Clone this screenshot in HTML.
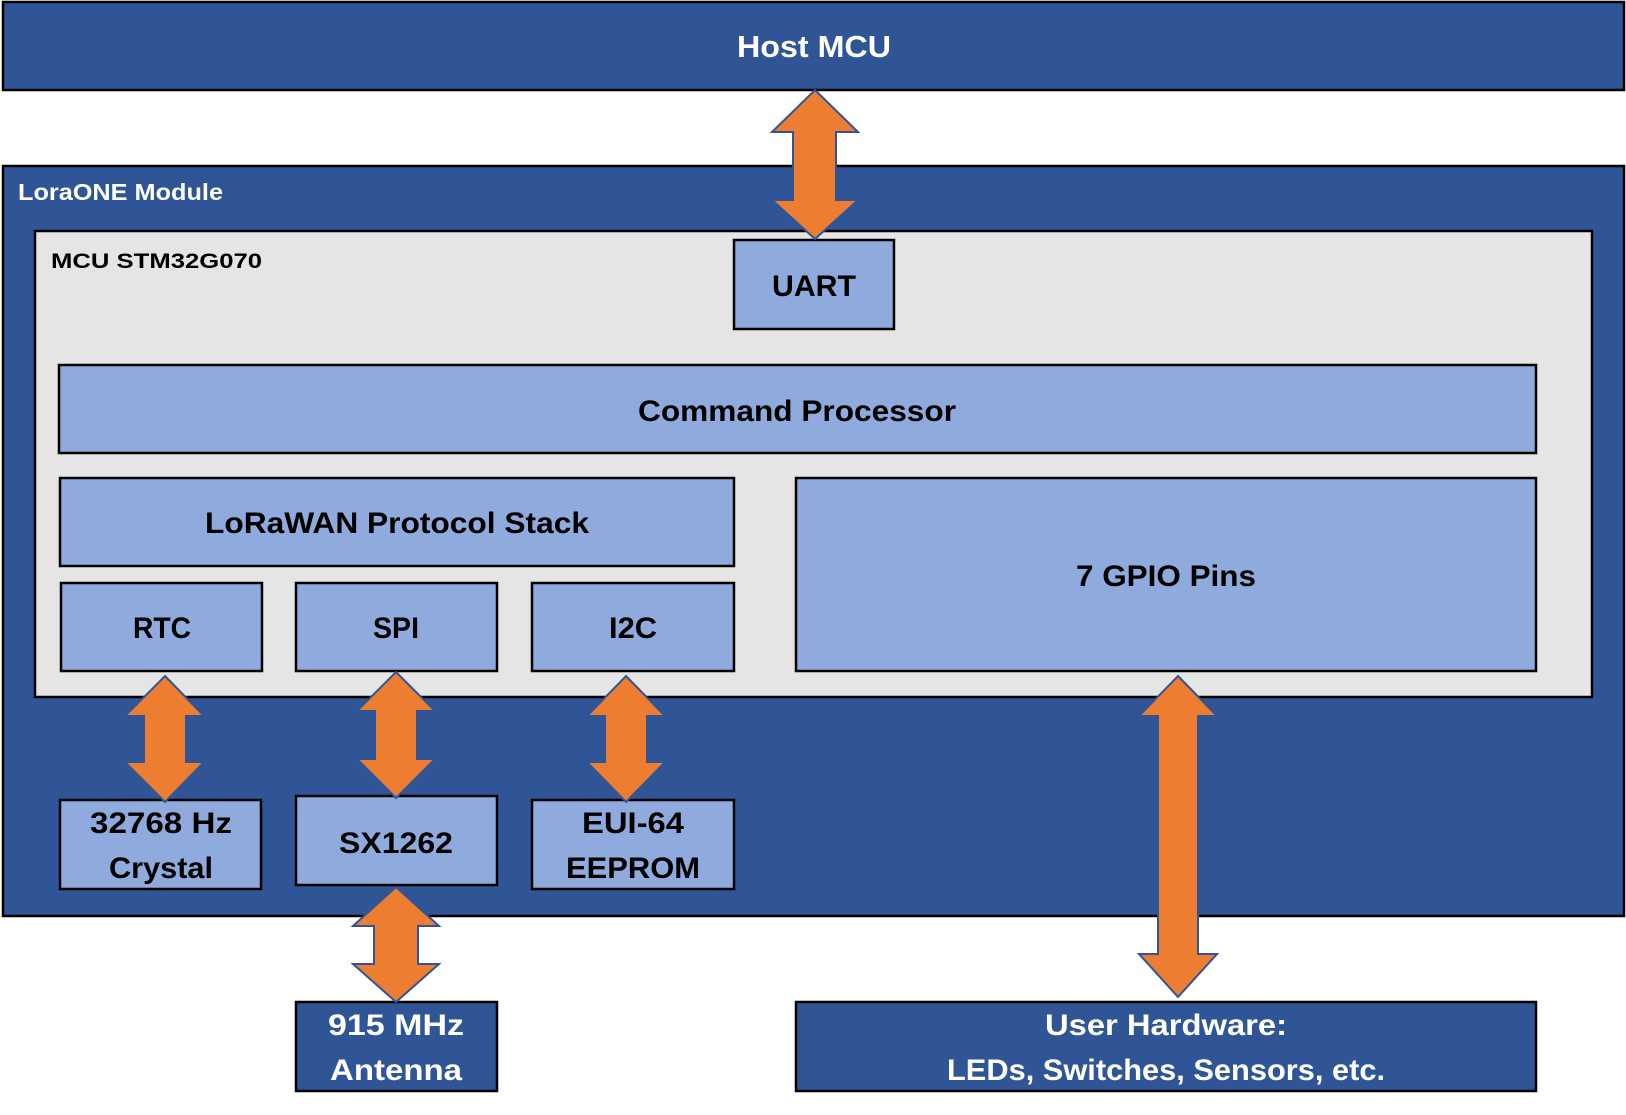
<!DOCTYPE html>
<html><head><meta charset="utf-8"><style>
html,body{margin:0;padding:0;background:#fff;}
svg{display:block;}
text{font-family:"Liberation Sans",sans-serif;font-weight:bold;}
</style></head><body>
<svg width="1626" height="1115" viewBox="0 0 1626 1115" xmlns="http://www.w3.org/2000/svg">
<defs></defs>
<!-- Host MCU -->
<rect x="3" y="2" width="1621" height="88" fill="#2F5597" stroke="#000" stroke-width="2.5"/>
<text x="814" y="57" font-size="31" fill="#fff" text-anchor="middle" textLength="154" lengthAdjust="spacingAndGlyphs">Host MCU</text>
<!-- Module -->
<rect x="3" y="166" width="1621" height="750" fill="#2F5597" stroke="#000" stroke-width="2.5"/>
<text x="18" y="200" font-size="23" fill="#fff" textLength="205" lengthAdjust="spacingAndGlyphs">LoraONE Module</text>
<!-- Gray MCU -->
<rect x="35" y="231" width="1557" height="466" fill="#E5E5E5" stroke="#000" stroke-width="2.5"/>
<text x="51" y="268" font-size="21" fill="#000" textLength="211" lengthAdjust="spacingAndGlyphs">MCU STM32G070</text>
<g fill="#8FAADC" stroke="#000" stroke-width="2.5">
<rect x="734" y="240" width="160" height="89"/>
<rect x="59" y="365" width="1477" height="88"/>
<rect x="60" y="478" width="674" height="88"/>
<rect x="796" y="478" width="740" height="193"/>
<rect x="61" y="583" width="201" height="88"/>
<rect x="296" y="583" width="201" height="88"/>
<rect x="532" y="583" width="202" height="88"/>
<rect x="60" y="800" width="201" height="89"/>
<rect x="296" y="796" width="201" height="89"/>
<rect x="532" y="800" width="202" height="89"/>
</g>
<g fill="#2F5597" stroke="#000" stroke-width="2.5">
<rect x="296" y="1002" width="201" height="89"/>
<rect x="796" y="1002" width="740" height="89"/>
</g>
<g font-size="30" fill="#000" text-anchor="middle">
<text x="814" y="296" textLength="84" lengthAdjust="spacingAndGlyphs">UART</text>
<text x="797" y="421" textLength="318" lengthAdjust="spacingAndGlyphs">Command Processor</text>
<text x="397" y="533" textLength="384" lengthAdjust="spacingAndGlyphs">LoRaWAN Protocol Stack</text>
<text x="1166" y="586" textLength="180" lengthAdjust="spacingAndGlyphs">7 GPIO Pins</text>
<text x="162" y="638" textLength="58" lengthAdjust="spacingAndGlyphs">RTC</text>
<text x="396" y="638" textLength="46" lengthAdjust="spacingAndGlyphs">SPI</text>
<text x="633" y="638" textLength="48" lengthAdjust="spacingAndGlyphs">I2C</text>
<text x="161" y="833" textLength="142" lengthAdjust="spacingAndGlyphs">32768 Hz</text>
<text x="161" y="878" textLength="104" lengthAdjust="spacingAndGlyphs">Crystal</text>
<text x="396" y="853" textLength="114" lengthAdjust="spacingAndGlyphs">SX1262</text>
<text x="633" y="833" textLength="102" lengthAdjust="spacingAndGlyphs">EUI-64</text>
<text x="633" y="878" textLength="134" lengthAdjust="spacingAndGlyphs">EEPROM</text>
</g>
<g font-size="30" fill="#fff" text-anchor="middle">
<text x="396" y="1035" textLength="136" lengthAdjust="spacingAndGlyphs">915 MHz</text>
<text x="396" y="1080" textLength="132" lengthAdjust="spacingAndGlyphs">Antenna</text>
<text x="1166" y="1035" textLength="242" lengthAdjust="spacingAndGlyphs">User Hardware:</text>
<text x="1166" y="1080" textLength="438" lengthAdjust="spacingAndGlyphs">LEDs, Switches, Sensors, etc.</text>
</g>
<!-- arrows -->
<g fill="#ED7D31" stroke="#2F5597" stroke-width="2">
<polygon points="815,90 858,132 836,132 836,200 858,200 815,239 772,200 793,200 793,132 772,132"/>
<polygon points="165,676 204,716 186,716 186,762 204,762 165,802 125,762 144,762 144,716 125,716"/>
<polygon points="396,672 435,711 417,711 417,759 435,759 396,798 357,759 375,759 375,711 357,711"/>
<polygon points="626,676 665,716 647,716 647,762 665,762 626,802 587,762 605,762 605,716 587,716"/>
<polygon points="396,887 439,926 418,926 418,964 439,964 396,1002 353,964 374,964 374,926 353,926"/>
<polygon points="1178,676 1217,716 1198,716 1198,954 1217,954 1178,997 1139,954 1158,954 1158,716 1139,716"/>
</g>
</svg>
</body></html>
